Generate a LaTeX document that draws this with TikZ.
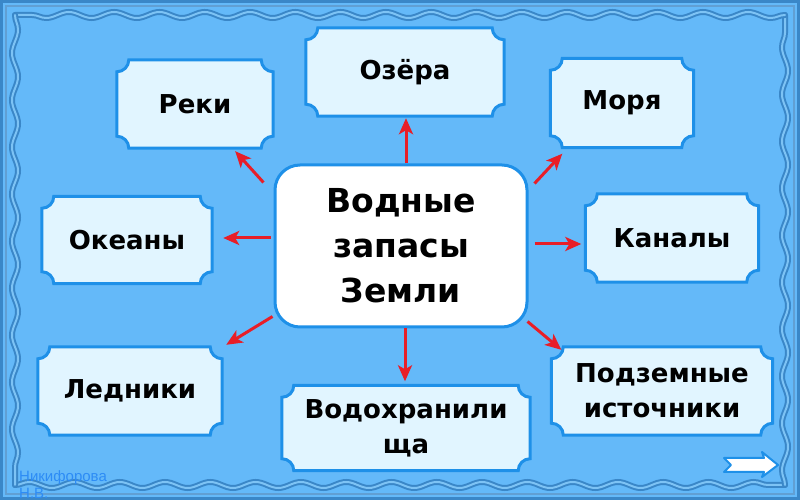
\documentclass[tikz,border=0pt]{standalone}
\usepackage{fontspec}
\setmainfont{DejaVu Sans}
\newfontfamily\signfont{Liberation Sans}
\usetikzlibrary{arrows.meta,backgrounds,decorations.pathmorphing,calc}

\definecolor{skyfill}{RGB}{100,185,249}
\definecolor{framedark}{RGB}{58,135,200}
\definecolor{framelight}{RGB}{125,195,245}
\definecolor{boxfill}{RGB}{225,245,255}
\definecolor{boxline}{RGB}{30,144,232}
\definecolor{arrowred}{RGB}{232,30,40}
\definecolor{signblue}{RGB}{45,140,245}

% box with cut-in corners round a named node
\newcommand{\scallopbox}[2]{%
  \draw[boxedge] ($(#1.north west)+(#2,0)$) -- ($(#1.north east)+(-#2,0)$)
    arc(180:270:#2) -- ($(#1.south east)+(0,#2)$)
    arc(90:180:#2) -- ($(#1.south west)+(#2,0)$)
    arc(0:90:#2) -- ($(#1.north west)+(0,-#2)$)
    arc(270:360:#2) -- cycle;}

\begin{document}
\begin{tikzpicture}[x=1pt, y=1pt,
  tagbox/.style={inner sep=0pt, align=center, font=\bfseries\fontsize{26}{35}\selectfont},
  hubbox/.style={draw=boxline, line width=3pt, fill=white, rounded corners=25pt,
    inner sep=0pt, align=center, font=\bfseries\fontsize{33}{45}\selectfont},
  boxedge/.style={draw=boxline, line width=3pt, fill=boxfill},
  wave/.style={decorate, decoration={snake, amplitude=3pt, segment length=#1}},
  arr/.style={arrowred, line width=3pt, -{Stealth[length=16pt, width=14pt, inset=4pt]}}]
  \useasboundingbox (0,0) rectangle (800,500);
  \clip (0,0) rectangle (800,500);

  % frame
  \begin{scope}[on background layer]
    \fill[skyfill] (0,0) rectangle (800,500);
    \draw[framedark, line width=3pt] (1.5,1.5) rectangle (798.5,498.5);
    \draw[framedark!80, line width=1.2pt] (6,6) rectangle (794,494);
    \foreach \a/\b/\s in {{(15,15)}/{(785,15)}/45.29pt, {(785,15)}/{(785,485)}/47pt,
                          {(785,485)}/{(15,485)}/45.29pt, {(15,485)}/{(15,15)}/47pt} {
      \draw[framedark, line width=6pt, line cap=round, wave=\s] \a -- \b;
      \draw[framelight, line width=2pt, line cap=round, wave=\s] \a -- \b;
    }
  \end{scope}

  % nodes
  \node[hubbox, minimum width=252pt, minimum height=162pt] (zapasy) at (401,254) {Водные\\запасы\\Земли};
  \node[tagbox, minimum width=156pt, minimum height=88pt] (reki) at (195,396) {Реки};
  \node[tagbox, minimum width=198pt, minimum height=88pt] (ozera) at (405,428) {Озёра};
  \node[tagbox, minimum width=143pt, minimum height=89pt] (morya) at (622,397) {Моря};
  \node[tagbox, minimum width=170pt, minimum height=87pt] (okeany) at (127,260) {Океаны};
  \node[tagbox, minimum width=173pt, minimum height=88pt] (kanaly) at (672,262) {Каналы};
  \node[tagbox, minimum width=184pt, minimum height=88pt] (ledniki) at (130,109) {Ледники};
  \node[tagbox, minimum width=248pt, minimum height=85pt] (vodohr) at (406,72) {Водохранили\\ща};
  \node[tagbox, minimum width=221pt, minimum height=88pt] (podzem) at (662,109) {Подземные\\источники};

  \begin{scope}[on background layer]
    \foreach \b in {reki,ozera,morya,okeany,kanaly,ledniki,vodohr,podzem} {
      \scallopbox{\b}{12pt}
    }
  \end{scope}

  % arrows
  \draw[arr] ([shift={(-10,-19)}]zapasy.north west) -- ([shift={(-38,-3)}]reki.south east);
  \draw[arr] ([xshift=5]zapasy.north) -- ([shift={(1,-2)}]ozera.south);
  \draw[arr] ([shift={(6,-20)}]zapasy.north east) -- ([shift={(12,-6)}]morya.south west);
  \draw[arr] ([shift={(-3,8)}]zapasy.west) -- ([shift={(11,2)}]okeany.east);
  \draw[arr] ([shift={(6,2)}]zapasy.east) -- ([shift={(-4,-6)}]kanaly.west);
  \draw[arr] ([shift={(-1,12)}]zapasy.south west) -- ([shift={(4,2)}]ledniki.north east);
  \draw[arr] ([xshift=4]zapasy.south) -- ([shift={(-1,4)}]vodohr.north);
  \draw[arr] ([shift={(-1,7)}]zapasy.south east) -- ([shift={(10,-3)}]podzem.north west);

  % signature and next button
  \node[signblue, anchor=north west, inner sep=0pt, align=left,
    font=\signfont\fontsize{15}{17}\selectfont] (sign) at (19,30) {Никифорова\\Н.В.};
  \draw[fill=white, draw=boxline, line width=2pt, line join=round]
    (724,42) -- (764,42) -- (762,48) -- (778,35) -- (762,23) -- (764,28)
    -- (724,28) -- (731,35) -- cycle;
\end{tikzpicture}
\end{document}
